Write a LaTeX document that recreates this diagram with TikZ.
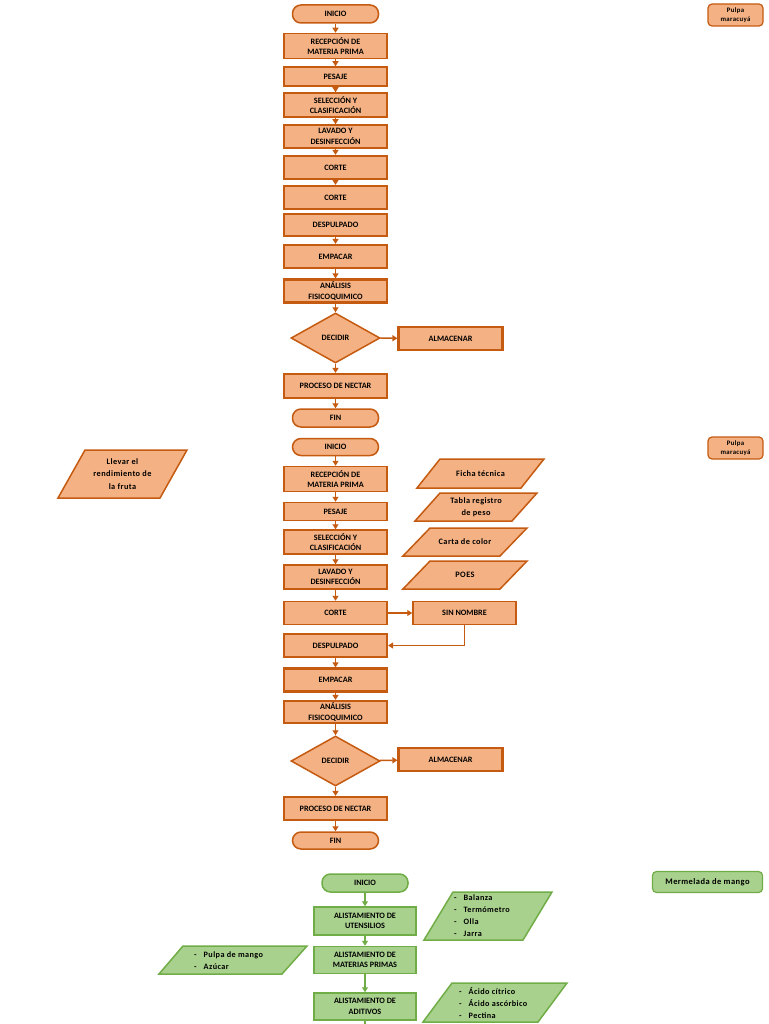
\documentclass[tikz,border=0pt]{standalone}
\usepackage{fontspec}
\setmainfont{Carlito}
\newfontfamily\spaced[LetterSpace=5]{Carlito}
\usetikzlibrary{shapes.geometric,arrows.meta}
\definecolor{ofill}{HTML}{F4B183}
\definecolor{oline}{HTML}{C55A11}
\definecolor{gfill}{HTML}{A9D18E}
\definecolor{gline}{HTML}{70AD47}
\begin{document}
\begin{tikzpicture}[x=1pt,y=-1pt,
  box/.style={draw=oline, fill=ofill, line width=1.5pt, minimum width=103pt, inner sep=1pt, align=center, font=\fontsize{8.2}{10.5}\selectfont\bfseries},
  thickbox/.style={box, line width=2.2pt},
  term/.style={box, rounded corners=8.5pt, minimum width=86pt, minimum height=18pt},
  dec/.style={diamond, aspect=1.8, draw=oline, fill=ofill, line width=1.5pt, minimum width=89pt, minimum height=50pt, inner sep=0pt, font=\fontsize{8.2}{10}\selectfont\bfseries},
  tag/.style={draw=oline, fill=ofill, line width=1.2pt, rounded corners=4pt, minimum width=55pt, minimum height=22pt, inner sep=0pt, align=center, font=\spaced\fontsize{6.8}{8.5}\selectfont\bfseries},
  arr/.style={draw=oline, line width=1.5pt, -{Triangle[length=5pt,width=6pt]}},
  pshape/.style={draw=oline, fill=ofill, line width=1.5pt, line join=miter},
  ptext/.style={inner sep=0pt, align=center, font=\spaced\fontsize{8.3}{12.5}\selectfont\bfseries},
  gbox/.style={box, draw=gline, fill=gfill, minimum width=102pt},
  gterm/.style={gbox, rounded corners=8.5pt, minimum width=86pt, minimum height=18pt},
  gtag/.style={tag, draw=gline, fill=gfill, font=\spaced\fontsize{8.5}{10}\selectfont\bfseries},
  garr/.style={arr, draw=gline},
  gshape/.style={pshape, draw=gline, fill=gfill},
  gtext/.style={inner sep=0pt, align=left, font=\spaced\fontsize{8.2}{12}\selectfont\bfseries}
]
\useasboundingbox (0,0) rectangle (768,1024);
\fill[white] (0,0) rectangle (768,1024);

% ---------- first chart ----------
\node[term] (inicio1) at (335.5,14) {INICIO};
\node[box, minimum height=25pt] (rec1) at (335.5,46) {RECEPCIÓN DE\\MATERIA PRIMA};
\node[box, minimum height=19pt] (pes1) at (335.5,76.5) {PESAJE};
\node[box, minimum height=24pt] (sel1) at (335.5,105) {SELECCIÓN Y\\CLASIFICACIÓN};
\node[box, minimum height=23pt] (lav1) at (335.5,136.5) {LAVADO Y\\DESINFECCIÓN};
\node[thickbox, minimum height=23pt] (cor1) at (335.5,167.5) {CORTE};
\node[thickbox, minimum height=23pt] (cor1b) at (335.5,197.5) {CORTE};
\node[thickbox, minimum height=22pt] (des1) at (335.5,225) {DESPULPADO};
\node[thickbox, minimum height=23pt] (emp1) at (335.5,256.5) {EMPACAR};
\node[thickbox, minimum height=23pt] (ana1) at (335.5,291) {ANÁLISIS\\FISICOQUIMICO};
\node[dec] (dec1) at (335.5,338) {DECIDIR};
\node[thickbox, minimum width=104pt, minimum height=23pt] (alm1) at (450.5,338.5) {ALMACENAR};
\node[thickbox, minimum height=24pt] (pro1) at (335.5,386) {PROCESO DE NECTAR};
\node[term] (fin1) at (335.5,418) {FIN};
\node[tag] (pulpa1) at (735.5,15) {Pulpa\\maracuyá};

\draw[arr] (inicio1) -- (rec1);
\draw[arr] (rec1) -- (pes1);
\draw[arr] (pes1) -- (sel1);
\draw[arr] (sel1) -- (lav1);
\draw[arr] (lav1) -- (cor1);
\draw[arr] (cor1) -- (cor1b);
\draw[arr] (des1) -- (emp1);
\draw[arr] (emp1) -- (ana1);
\draw[arr] (ana1) -- (dec1);
\draw[arr] (dec1) -- (alm1);
\draw[arr] (dec1) -- (pro1);
\draw[arr] (pro1) -- (fin1);

% ---------- second chart ----------
\node[term, minimum height=17pt] (inicio2) at (335.5,447) {INICIO};
\node[box, minimum height=25pt] (rec2) at (335.5,479) {RECEPCIÓN DE\\MATERIA PRIMA};
\node[box, minimum height=18pt] (pes2) at (335.5,511.5) {PESAJE};
\node[box, minimum height=24pt] (sel2) at (335.5,542) {SELECCIÓN Y\\CLASIFICACIÓN};
\node[box, minimum height=24pt] (lav2) at (335.5,577) {LAVADO Y\\DESINFECCIÓN};
\node[box, minimum height=23pt] (cor2) at (335.5,613) {CORTE};
\node[box, minimum height=23pt] (sin2) at (464.5,613) {SIN NOMBRE};
\node[thickbox, minimum height=23pt] (des2) at (335.5,645.5) {DESPULPADO};
\node[thickbox, minimum height=23pt] (emp2) at (335.5,680) {EMPACAR};
\node[thickbox, minimum height=22pt] (ana2) at (335.5,712) {ANÁLISIS\\FISICOQUIMICO};
\node[dec] (dec2) at (335.5,761) {DECIDIR};
\node[thickbox, minimum width=104pt, minimum height=23pt] (alm2) at (450.5,759.5) {ALMACENAR};
\node[thickbox, minimum height=23pt] (pro2) at (335.5,808.5) {PROCESO DE NECTAR};
\node[term, minimum height=17pt] (fin2) at (335.5,840.5) {FIN};
\node[tag] (pulpa2) at (735.5,448) {Pulpa\\maracuyá};

\draw[arr] (inicio2) -- (rec2);
\draw[arr] (rec2) -- (pes2);
\draw[arr] (pes2) -- (sel2);
\draw[arr] (sel2) -- (lav2);
\draw[arr] (lav2) -- (cor2);
\draw[arr] (cor2) -- (sin2);
\draw[arr] (sin2.south) |- (des2.east);
\draw[arr] (des2) -- (emp2);
\draw[arr] (emp2) -- (ana2);
\draw[arr] (ana2) -- (dec2);
\draw[arr] (dec2) -- (alm2);
\draw[arr] (dec2) -- (pro2);
\draw[arr] (pro2) -- (fin2);

% parallelograms (orange)
\draw[pshape] (58,498) -- (85,450) -- (187,450) -- (160,498) -- cycle;
\node[ptext] (llevar) at (122.5,474) {Llevar el\\rendimiento de\\la fruta};
\draw[pshape] (417,488) -- (440,459) -- (544,459) -- (521,488) -- cycle;
\node[ptext] (ficha) at (480.5,473.5) {Ficha técnica};
\draw[pshape] (415,521) -- (440,493) -- (537,493) -- (512,521) -- cycle;
\node[ptext] (tabla) at (476,507) {Tabla registro\\de peso};
\draw[pshape] (403,556) -- (430,528) -- (527,528) -- (500,556) -- cycle;
\node[ptext] (carta) at (465,542) {Carta de color};
\draw[pshape] (403,589) -- (430,561) -- (527,561) -- (500,589) -- cycle;
\node[ptext] (poes) at (465,575) {POES};

% ---------- green chart ----------
\node[gterm] (ginicio) at (365,883) {INICIO};
\node[gbox, minimum height=28pt] (gut) at (365,921) {ALISTAMIENTO DE\\UTENSILIOS};
\node[gbox, minimum height=27pt] (gmat) at (365,960) {ALISTAMIENTO DE\\MATERIAS PRIMAS};
\node[gbox, minimum height=27pt] (gadi) at (365,1006.5) {ALISTAMIENTO DE\\ADITIVOS};
\coordinate (gend) at (365,1024);
\node[gtag, minimum width=110pt, minimum height=21pt] (merm) at (707.5,882) {Mermelada de mango};

\draw[garr] (ginicio) -- (gut);
\draw[garr] (gut) -- (gmat);
\draw[garr] (gmat) -- (gadi);
\draw[draw=gline, line width=1.5pt] (gadi) -- (gend);

\draw[gshape] (424,940) -- (453,892) -- (552,892) -- (523,940) -- cycle;
\node[gtext, anchor=west] (utens) at (454,916) {-\hspace{7pt}Balanza\\-\hspace{7pt}Termómetro\\-\hspace{7pt}Olla\\-\hspace{7pt}Jarra};
\draw[gshape] (159,974) -- (183,946) -- (307,946) -- (282,974) -- cycle;
\node[gtext, anchor=west] (mprimas) at (194,960.5) {-\hspace{7pt}Pulpa de mango\\-\hspace{7pt}Azúcar};
\draw[gshape] (423,1022) -- (452,983) -- (567,983) -- (538,1022) -- cycle;
\node[gtext, anchor=west] (aditivos) at (459,1003.5) {-\hspace{7pt}Ácido cítrico\\-\hspace{7pt}Ácido ascórbico\\-\hspace{7pt}Pectina};
\end{tikzpicture}
\end{document}
